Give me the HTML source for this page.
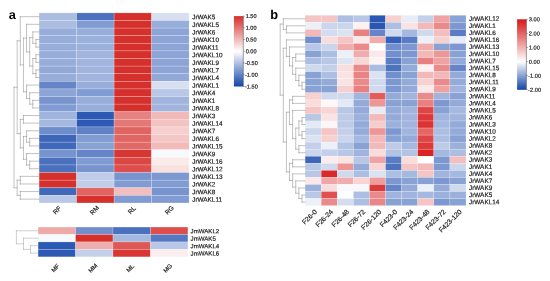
<!DOCTYPE html>
<html><head><meta charset="utf-8"><title>Heatmap</title>
<style>html,body{margin:0;padding:0;background:#fff}svg{display:block}text{font-family:"Liberation Sans",sans-serif;text-rendering:geometricPrecision}</style>
</head><body>
<svg width="550" height="281" viewBox="0 0 550 281">
<rect width="550" height="281" fill="#fff"/>
<g shape-rendering="geometricPrecision">
<rect x="39.10" y="12.90" width="37.50" height="7.60" fill="#aabce0" stroke="#fff" stroke-opacity="0.4" stroke-width="0.5"/>
<rect x="76.60" y="12.90" width="37.50" height="7.60" fill="#4b71be" stroke="#fff" stroke-opacity="0.4" stroke-width="0.5"/>
<rect x="114.10" y="12.90" width="37.50" height="7.60" fill="#d6302c" stroke="#fff" stroke-opacity="0.4" stroke-width="0.5"/>
<rect x="151.60" y="12.90" width="37.50" height="7.60" fill="#d7dff1" stroke="#fff" stroke-opacity="0.4" stroke-width="0.5"/>
<rect x="39.10" y="20.50" width="37.50" height="7.60" fill="#aabce0" stroke="#fff" stroke-opacity="0.4" stroke-width="0.5"/>
<rect x="76.60" y="20.50" width="37.50" height="7.60" fill="#819cd2" stroke="#fff" stroke-opacity="0.4" stroke-width="0.5"/>
<rect x="114.10" y="20.50" width="37.50" height="7.60" fill="#d6302c" stroke="#fff" stroke-opacity="0.4" stroke-width="0.5"/>
<rect x="151.60" y="20.50" width="37.50" height="7.60" fill="#97adda" stroke="#fff" stroke-opacity="0.4" stroke-width="0.5"/>
<rect x="39.10" y="28.11" width="37.50" height="7.60" fill="#97adda" stroke="#fff" stroke-opacity="0.4" stroke-width="0.5"/>
<rect x="76.60" y="28.11" width="37.50" height="7.60" fill="#97adda" stroke="#fff" stroke-opacity="0.4" stroke-width="0.5"/>
<rect x="114.10" y="28.11" width="37.50" height="7.60" fill="#d6302c" stroke="#fff" stroke-opacity="0.4" stroke-width="0.5"/>
<rect x="151.60" y="28.11" width="37.50" height="7.60" fill="#8ca4d6" stroke="#fff" stroke-opacity="0.4" stroke-width="0.5"/>
<rect x="39.10" y="35.71" width="37.50" height="7.60" fill="#97adda" stroke="#fff" stroke-opacity="0.4" stroke-width="0.5"/>
<rect x="76.60" y="35.71" width="37.50" height="7.60" fill="#9bb0db" stroke="#fff" stroke-opacity="0.4" stroke-width="0.5"/>
<rect x="114.10" y="35.71" width="37.50" height="7.60" fill="#d6302c" stroke="#fff" stroke-opacity="0.4" stroke-width="0.5"/>
<rect x="151.60" y="35.71" width="37.50" height="7.60" fill="#8ca4d6" stroke="#fff" stroke-opacity="0.4" stroke-width="0.5"/>
<rect x="39.10" y="43.31" width="37.50" height="7.60" fill="#97adda" stroke="#fff" stroke-opacity="0.4" stroke-width="0.5"/>
<rect x="76.60" y="43.31" width="37.50" height="7.60" fill="#9bb0db" stroke="#fff" stroke-opacity="0.4" stroke-width="0.5"/>
<rect x="114.10" y="43.31" width="37.50" height="7.60" fill="#d6302c" stroke="#fff" stroke-opacity="0.4" stroke-width="0.5"/>
<rect x="151.60" y="43.31" width="37.50" height="7.60" fill="#8ca4d6" stroke="#fff" stroke-opacity="0.4" stroke-width="0.5"/>
<rect x="39.10" y="50.91" width="37.50" height="7.60" fill="#97adda" stroke="#fff" stroke-opacity="0.4" stroke-width="0.5"/>
<rect x="76.60" y="50.91" width="37.50" height="7.60" fill="#a0b4dd" stroke="#fff" stroke-opacity="0.4" stroke-width="0.5"/>
<rect x="114.10" y="50.91" width="37.50" height="7.60" fill="#d6302c" stroke="#fff" stroke-opacity="0.4" stroke-width="0.5"/>
<rect x="151.60" y="50.91" width="37.50" height="7.60" fill="#8ca4d6" stroke="#fff" stroke-opacity="0.4" stroke-width="0.5"/>
<rect x="39.10" y="58.52" width="37.50" height="7.60" fill="#97adda" stroke="#fff" stroke-opacity="0.4" stroke-width="0.5"/>
<rect x="76.60" y="58.52" width="37.50" height="7.60" fill="#a0b4dd" stroke="#fff" stroke-opacity="0.4" stroke-width="0.5"/>
<rect x="114.10" y="58.52" width="37.50" height="7.60" fill="#d6302c" stroke="#fff" stroke-opacity="0.4" stroke-width="0.5"/>
<rect x="151.60" y="58.52" width="37.50" height="7.60" fill="#8ca4d6" stroke="#fff" stroke-opacity="0.4" stroke-width="0.5"/>
<rect x="39.10" y="66.12" width="37.50" height="7.60" fill="#92a9d8" stroke="#fff" stroke-opacity="0.4" stroke-width="0.5"/>
<rect x="76.60" y="66.12" width="37.50" height="7.60" fill="#a0b4dd" stroke="#fff" stroke-opacity="0.4" stroke-width="0.5"/>
<rect x="114.10" y="66.12" width="37.50" height="7.60" fill="#d6302c" stroke="#fff" stroke-opacity="0.4" stroke-width="0.5"/>
<rect x="151.60" y="66.12" width="37.50" height="7.60" fill="#8ca4d6" stroke="#fff" stroke-opacity="0.4" stroke-width="0.5"/>
<rect x="39.10" y="73.72" width="37.50" height="7.60" fill="#97adda" stroke="#fff" stroke-opacity="0.4" stroke-width="0.5"/>
<rect x="76.60" y="73.72" width="37.50" height="7.60" fill="#a0b4dd" stroke="#fff" stroke-opacity="0.4" stroke-width="0.5"/>
<rect x="114.10" y="73.72" width="37.50" height="7.60" fill="#d6302c" stroke="#fff" stroke-opacity="0.4" stroke-width="0.5"/>
<rect x="151.60" y="73.72" width="37.50" height="7.60" fill="#92a9d8" stroke="#fff" stroke-opacity="0.4" stroke-width="0.5"/>
<rect x="39.10" y="81.33" width="37.50" height="7.60" fill="#6585c8" stroke="#fff" stroke-opacity="0.4" stroke-width="0.5"/>
<rect x="76.60" y="81.33" width="37.50" height="7.60" fill="#97adda" stroke="#fff" stroke-opacity="0.4" stroke-width="0.5"/>
<rect x="114.10" y="81.33" width="37.50" height="7.60" fill="#d6302c" stroke="#fff" stroke-opacity="0.4" stroke-width="0.5"/>
<rect x="151.60" y="81.33" width="37.50" height="7.60" fill="#d7dff1" stroke="#fff" stroke-opacity="0.4" stroke-width="0.5"/>
<rect x="39.10" y="88.93" width="37.50" height="7.60" fill="#8ca4d6" stroke="#fff" stroke-opacity="0.4" stroke-width="0.5"/>
<rect x="76.60" y="88.93" width="37.50" height="7.60" fill="#819cd2" stroke="#fff" stroke-opacity="0.4" stroke-width="0.5"/>
<rect x="114.10" y="88.93" width="37.50" height="7.60" fill="#d6302c" stroke="#fff" stroke-opacity="0.4" stroke-width="0.5"/>
<rect x="151.60" y="88.93" width="37.50" height="7.60" fill="#b9c8e6" stroke="#fff" stroke-opacity="0.4" stroke-width="0.5"/>
<rect x="39.10" y="96.53" width="37.50" height="7.60" fill="#7894cf" stroke="#fff" stroke-opacity="0.4" stroke-width="0.5"/>
<rect x="76.60" y="96.53" width="37.50" height="7.60" fill="#97adda" stroke="#fff" stroke-opacity="0.4" stroke-width="0.5"/>
<rect x="114.10" y="96.53" width="37.50" height="7.60" fill="#d6302c" stroke="#fff" stroke-opacity="0.4" stroke-width="0.5"/>
<rect x="151.60" y="96.53" width="37.50" height="7.60" fill="#a0b4dd" stroke="#fff" stroke-opacity="0.4" stroke-width="0.5"/>
<rect x="39.10" y="104.14" width="37.50" height="7.60" fill="#819cd2" stroke="#fff" stroke-opacity="0.4" stroke-width="0.5"/>
<rect x="76.60" y="104.14" width="37.50" height="7.60" fill="#97adda" stroke="#fff" stroke-opacity="0.4" stroke-width="0.5"/>
<rect x="114.10" y="104.14" width="37.50" height="7.60" fill="#d6302c" stroke="#fff" stroke-opacity="0.4" stroke-width="0.5"/>
<rect x="151.60" y="104.14" width="37.50" height="7.60" fill="#a0b4dd" stroke="#fff" stroke-opacity="0.4" stroke-width="0.5"/>
<rect x="39.10" y="111.74" width="37.50" height="7.60" fill="#a0b4dd" stroke="#fff" stroke-opacity="0.4" stroke-width="0.5"/>
<rect x="76.60" y="111.74" width="37.50" height="7.60" fill="#2c59b3" stroke="#fff" stroke-opacity="0.4" stroke-width="0.5"/>
<rect x="114.10" y="111.74" width="37.50" height="7.60" fill="#e68380" stroke="#fff" stroke-opacity="0.4" stroke-width="0.5"/>
<rect x="151.60" y="111.74" width="37.50" height="7.60" fill="#f1b9b7" stroke="#fff" stroke-opacity="0.4" stroke-width="0.5"/>
<rect x="39.10" y="119.34" width="37.50" height="7.60" fill="#a5b8df" stroke="#fff" stroke-opacity="0.4" stroke-width="0.5"/>
<rect x="76.60" y="119.34" width="37.50" height="7.60" fill="#2c59b3" stroke="#fff" stroke-opacity="0.4" stroke-width="0.5"/>
<rect x="114.10" y="119.34" width="37.50" height="7.60" fill="#e47876" stroke="#fff" stroke-opacity="0.4" stroke-width="0.5"/>
<rect x="151.60" y="119.34" width="37.50" height="7.60" fill="#f3c3c2" stroke="#fff" stroke-opacity="0.4" stroke-width="0.5"/>
<rect x="39.10" y="126.95" width="37.50" height="7.60" fill="#6e8dcb" stroke="#fff" stroke-opacity="0.4" stroke-width="0.5"/>
<rect x="76.60" y="126.95" width="37.50" height="7.60" fill="#5e80c5" stroke="#fff" stroke-opacity="0.4" stroke-width="0.5"/>
<rect x="114.10" y="126.95" width="37.50" height="7.60" fill="#e06461" stroke="#fff" stroke-opacity="0.4" stroke-width="0.5"/>
<rect x="151.60" y="126.95" width="37.50" height="7.60" fill="#f6cfce" stroke="#fff" stroke-opacity="0.4" stroke-width="0.5"/>
<rect x="39.10" y="134.55" width="37.50" height="7.60" fill="#3d66b9" stroke="#fff" stroke-opacity="0.4" stroke-width="0.5"/>
<rect x="76.60" y="134.55" width="37.50" height="7.60" fill="#819cd2" stroke="#fff" stroke-opacity="0.4" stroke-width="0.5"/>
<rect x="114.10" y="134.55" width="37.50" height="7.60" fill="#e16663" stroke="#fff" stroke-opacity="0.4" stroke-width="0.5"/>
<rect x="151.60" y="134.55" width="37.50" height="7.60" fill="#f4c7c6" stroke="#fff" stroke-opacity="0.4" stroke-width="0.5"/>
<rect x="39.10" y="142.15" width="37.50" height="7.60" fill="#4169bb" stroke="#fff" stroke-opacity="0.4" stroke-width="0.5"/>
<rect x="76.60" y="142.15" width="37.50" height="7.60" fill="#88a2d4" stroke="#fff" stroke-opacity="0.4" stroke-width="0.5"/>
<rect x="114.10" y="142.15" width="37.50" height="7.60" fill="#e16a67" stroke="#fff" stroke-opacity="0.4" stroke-width="0.5"/>
<rect x="151.60" y="142.15" width="37.50" height="7.60" fill="#f1bbb9" stroke="#fff" stroke-opacity="0.4" stroke-width="0.5"/>
<rect x="39.10" y="149.75" width="37.50" height="7.60" fill="#7894cf" stroke="#fff" stroke-opacity="0.4" stroke-width="0.5"/>
<rect x="76.60" y="149.75" width="37.50" height="7.60" fill="#6585c8" stroke="#fff" stroke-opacity="0.4" stroke-width="0.5"/>
<rect x="114.10" y="149.75" width="37.50" height="7.60" fill="#d73632" stroke="#fff" stroke-opacity="0.4" stroke-width="0.5"/>
<rect x="151.60" y="149.75" width="37.50" height="7.60" fill="#f8f9fc" stroke="#fff" stroke-opacity="0.4" stroke-width="0.5"/>
<rect x="39.10" y="157.36" width="37.50" height="7.60" fill="#4b71be" stroke="#fff" stroke-opacity="0.4" stroke-width="0.5"/>
<rect x="76.60" y="157.36" width="37.50" height="7.60" fill="#819cd2" stroke="#fff" stroke-opacity="0.4" stroke-width="0.5"/>
<rect x="114.10" y="157.36" width="37.50" height="7.60" fill="#db4743" stroke="#fff" stroke-opacity="0.4" stroke-width="0.5"/>
<rect x="151.60" y="157.36" width="37.50" height="7.60" fill="#fbeaea" stroke="#fff" stroke-opacity="0.4" stroke-width="0.5"/>
<rect x="39.10" y="164.96" width="37.50" height="7.60" fill="#4b71be" stroke="#fff" stroke-opacity="0.4" stroke-width="0.5"/>
<rect x="76.60" y="164.96" width="37.50" height="7.60" fill="#7894cf" stroke="#fff" stroke-opacity="0.4" stroke-width="0.5"/>
<rect x="114.10" y="164.96" width="37.50" height="7.60" fill="#dc4f4c" stroke="#fff" stroke-opacity="0.4" stroke-width="0.5"/>
<rect x="151.60" y="164.96" width="37.50" height="7.60" fill="#f9e1e0" stroke="#fff" stroke-opacity="0.4" stroke-width="0.5"/>
<rect x="39.10" y="172.56" width="37.50" height="7.60" fill="#d6302c" stroke="#fff" stroke-opacity="0.4" stroke-width="0.5"/>
<rect x="76.60" y="172.56" width="37.50" height="7.60" fill="#bfcde8" stroke="#fff" stroke-opacity="0.4" stroke-width="0.5"/>
<rect x="114.10" y="172.56" width="37.50" height="7.60" fill="#7894cf" stroke="#fff" stroke-opacity="0.4" stroke-width="0.5"/>
<rect x="151.60" y="172.56" width="37.50" height="7.60" fill="#7d98d0" stroke="#fff" stroke-opacity="0.4" stroke-width="0.5"/>
<rect x="39.10" y="180.17" width="37.50" height="7.60" fill="#d6302c" stroke="#fff" stroke-opacity="0.4" stroke-width="0.5"/>
<rect x="76.60" y="180.17" width="37.50" height="7.60" fill="#bfcde8" stroke="#fff" stroke-opacity="0.4" stroke-width="0.5"/>
<rect x="114.10" y="180.17" width="37.50" height="7.60" fill="#819cd2" stroke="#fff" stroke-opacity="0.4" stroke-width="0.5"/>
<rect x="151.60" y="180.17" width="37.50" height="7.60" fill="#819cd2" stroke="#fff" stroke-opacity="0.4" stroke-width="0.5"/>
<rect x="39.10" y="187.77" width="37.50" height="7.60" fill="#4169bb" stroke="#fff" stroke-opacity="0.4" stroke-width="0.5"/>
<rect x="76.60" y="187.77" width="37.50" height="7.60" fill="#e06461" stroke="#fff" stroke-opacity="0.4" stroke-width="0.5"/>
<rect x="114.10" y="187.77" width="37.50" height="7.60" fill="#f2bfbe" stroke="#fff" stroke-opacity="0.4" stroke-width="0.5"/>
<rect x="151.60" y="187.77" width="37.50" height="7.60" fill="#7894cf" stroke="#fff" stroke-opacity="0.4" stroke-width="0.5"/>
<rect x="39.10" y="195.37" width="37.50" height="7.60" fill="#b9c8e6" stroke="#fff" stroke-opacity="0.4" stroke-width="0.5"/>
<rect x="76.60" y="195.37" width="37.50" height="7.60" fill="#d6302c" stroke="#fff" stroke-opacity="0.4" stroke-width="0.5"/>
<rect x="114.10" y="195.37" width="37.50" height="7.60" fill="#819cd2" stroke="#fff" stroke-opacity="0.4" stroke-width="0.5"/>
<rect x="151.60" y="195.37" width="37.50" height="7.60" fill="#819cd2" stroke="#fff" stroke-opacity="0.4" stroke-width="0.5"/>
</g>
<g font-size="6.40" fill="#1a1a1a" stroke="#1a1a1a" stroke-width="0.18">
<text transform="translate(192.20 19.33) rotate(-0.08)">JrWAK5</text>
<text transform="translate(192.20 26.93) rotate(-0.08)">JrWAKL5</text>
<text transform="translate(192.20 34.53) rotate(-0.08)">JrWAK6</text>
<text transform="translate(192.20 42.13) rotate(-0.08)">JrWAK10</text>
<text transform="translate(192.20 49.74) rotate(-0.08)">JrWAK11</text>
<text transform="translate(192.20 57.34) rotate(-0.08)">JrWAKL10</text>
<text transform="translate(192.20 64.94) rotate(-0.08)">JrWAKL9</text>
<text transform="translate(192.20 72.55) rotate(-0.08)">JrWAKL7</text>
<text transform="translate(192.20 80.15) rotate(-0.08)">JrWAKL4</text>
<text transform="translate(192.20 87.75) rotate(-0.08)">JrWAKL1</text>
<text transform="translate(192.20 95.36) rotate(-0.08)">JrWAK4</text>
<text transform="translate(192.20 102.96) rotate(-0.08)">JrWAK1</text>
<text transform="translate(192.20 110.56) rotate(-0.08)">JrWAKL8</text>
<text transform="translate(192.20 118.16) rotate(-0.08)">JrWAK3</text>
<text transform="translate(192.20 125.77) rotate(-0.08)">JrWAKL14</text>
<text transform="translate(192.20 133.37) rotate(-0.08)">JrWAK7</text>
<text transform="translate(192.20 140.97) rotate(-0.08)">JrWAKL6</text>
<text transform="translate(192.20 148.58) rotate(-0.08)">JrWAKL15</text>
<text transform="translate(192.20 156.18) rotate(-0.08)">JrWAK9</text>
<text transform="translate(192.20 163.78) rotate(-0.08)">JrWAKL16</text>
<text transform="translate(192.20 171.39) rotate(-0.08)">JrWAKL12</text>
<text transform="translate(192.20 178.99) rotate(-0.08)">JrWAKL13</text>
<text transform="translate(192.20 186.59) rotate(-0.08)">JrWAK2</text>
<text transform="translate(192.20 194.19) rotate(-0.08)">JrWAK8</text>
<text transform="translate(192.20 201.80) rotate(-0.08)">JrWAKL11</text>
</g>
<g font-size="6.40" fill="#1a1a1a" stroke="#1a1a1a" stroke-width="0.18" text-anchor="middle">
<text transform="translate(58.45 211.70) rotate(-45)">RF</text>
<text transform="translate(95.95 211.70) rotate(-45)">RM</text>
<text transform="translate(133.45 211.70) rotate(-45)">RL</text>
<text transform="translate(170.95 211.70) rotate(-45)">RG</text>
</g>
<path d="M35.96 39.51L39.10 39.51M35.96 47.11L39.10 47.11M35.96 39.51L35.96 47.11M32.83 31.91L39.10 31.91M32.83 43.31L35.96 43.31M32.83 31.91L32.83 43.31M35.96 54.72L39.10 54.72M35.96 62.32L39.10 62.32M35.96 54.72L35.96 62.32M35.96 69.92L39.10 69.92M35.96 77.53L39.10 77.53M35.96 69.92L35.96 77.53M32.83 58.52L35.96 58.52M32.83 73.72L35.96 73.72M32.83 58.52L32.83 73.72M29.70 37.61L32.83 37.61M29.70 66.12L32.83 66.12M29.70 37.61L29.70 66.12M26.57 24.30L39.10 24.30M26.57 51.87L29.70 51.87M26.57 24.30L26.57 51.87M32.83 100.33L39.10 100.33M32.83 107.94L39.10 107.94M32.83 100.33L32.83 107.94M29.70 92.73L39.10 92.73M29.70 104.14L32.83 104.14M29.70 92.73L29.70 104.14M26.57 85.13L39.10 85.13M26.57 98.43L29.70 98.43M26.57 85.13L26.57 98.43M23.44 38.08L26.57 38.08M23.44 91.78L26.57 91.78M23.44 38.08L23.44 91.78M20.31 16.70L39.10 16.70M20.31 64.93L23.44 64.93M20.31 16.70L20.31 64.93M23.44 115.54L39.10 115.54M23.44 123.14L39.10 123.14M23.44 115.54L23.44 123.14M29.70 138.35L39.10 138.35M29.70 145.95L39.10 145.95M29.70 138.35L29.70 145.95M26.57 130.75L39.10 130.75M26.57 142.15L29.70 142.15M26.57 130.75L26.57 142.15M29.70 161.16L39.10 161.16M29.70 168.76L39.10 168.76M29.70 161.16L29.70 168.76M26.57 153.56L39.10 153.56M26.57 164.96L29.70 164.96M26.57 153.56L26.57 164.96M23.44 136.45L26.57 136.45M23.44 159.26L26.57 159.26M23.44 136.45L23.44 159.26M20.31 119.34L23.44 119.34M20.31 147.85L23.44 147.85M20.31 119.34L20.31 147.85M17.18 40.82L20.31 40.82M17.18 133.60L20.31 133.60M17.18 40.82L17.18 133.60M20.31 176.36L39.10 176.36M20.31 183.97L39.10 183.97M20.31 176.36L20.31 183.97M20.31 191.57L39.10 191.57M20.31 199.17L39.10 199.17M20.31 191.57L20.31 199.17M17.18 180.17L20.31 180.17M17.18 195.37L20.31 195.37M17.18 180.17L17.18 195.37M14.05 87.21L17.18 87.21M14.05 187.77L17.18 187.77M14.05 87.21L14.05 187.77" fill="none" stroke="#858585" stroke-width="0.5" stroke-linecap="square"/>
<defs><linearGradient id="ga" x1="0" y1="0" x2="0" y2="1"><stop offset="0" stop-color="#d6302c"/><stop offset="0.500" stop-color="#fff"/><stop offset="1" stop-color="#1244aa"/></linearGradient></defs>
<rect x="233.90" y="16.10" width="9.40" height="70.40" fill="url(#ga)"/>
<path d="M243.30 16.10V86.50" stroke="#444" stroke-width="0.5"/>
<g font-size="5.60" fill="#1a1a1a" stroke="#1a1a1a" stroke-width="0.18">
<path d="M243.30 16.10h1.3" stroke="#333" stroke-width="0.5"/>
<text transform="translate(245.70 18.12) rotate(-0.08)">1.50</text>
<path d="M243.30 27.83h1.3" stroke="#333" stroke-width="0.5"/>
<text transform="translate(245.70 29.85) rotate(-0.08)">1.00</text>
<path d="M243.30 39.57h1.3" stroke="#333" stroke-width="0.5"/>
<text transform="translate(245.70 41.58) rotate(-0.08)">0.50</text>
<path d="M243.30 51.30h1.3" stroke="#333" stroke-width="0.5"/>
<text transform="translate(245.70 53.32) rotate(-0.08)">0.00</text>
<path d="M243.30 63.03h1.3" stroke="#333" stroke-width="0.5"/>
<text transform="translate(245.00 65.05) rotate(-0.08)">-0.50</text>
<path d="M243.30 74.77h1.3" stroke="#333" stroke-width="0.5"/>
<text transform="translate(245.00 76.78) rotate(-0.08)">-1.00</text>
<path d="M243.30 86.50h1.3" stroke="#333" stroke-width="0.5"/>
<text transform="translate(245.00 88.52) rotate(-0.08)">-1.50</text>
</g>
<g shape-rendering="geometricPrecision">
<rect x="38.10" y="227.05" width="37.45" height="7.45" fill="#eeaaa8" stroke="#fff" stroke-opacity="0.4" stroke-width="0.5"/>
<rect x="75.55" y="227.05" width="37.45" height="7.45" fill="#718fcc" stroke="#fff" stroke-opacity="0.4" stroke-width="0.5"/>
<rect x="113.00" y="227.05" width="37.45" height="7.45" fill="#4b71be" stroke="#fff" stroke-opacity="0.4" stroke-width="0.5"/>
<rect x="150.45" y="227.05" width="37.45" height="7.45" fill="#dc4f4c" stroke="#fff" stroke-opacity="0.4" stroke-width="0.5"/>
<rect x="38.10" y="234.50" width="37.45" height="7.45" fill="#f8f9fc" stroke="#fff" stroke-opacity="0.4" stroke-width="0.5"/>
<rect x="75.55" y="234.50" width="37.45" height="7.45" fill="#d6302c" stroke="#fff" stroke-opacity="0.4" stroke-width="0.5"/>
<rect x="113.00" y="234.50" width="37.45" height="7.45" fill="#a5b8df" stroke="#fff" stroke-opacity="0.4" stroke-width="0.5"/>
<rect x="150.45" y="234.50" width="37.45" height="7.45" fill="#5478c2" stroke="#fff" stroke-opacity="0.4" stroke-width="0.5"/>
<rect x="38.10" y="241.95" width="37.45" height="7.45" fill="#2c59b3" stroke="#fff" stroke-opacity="0.4" stroke-width="0.5"/>
<rect x="75.55" y="241.95" width="37.45" height="7.45" fill="#efaead" stroke="#fff" stroke-opacity="0.4" stroke-width="0.5"/>
<rect x="113.00" y="241.95" width="37.45" height="7.45" fill="#de5956" stroke="#fff" stroke-opacity="0.4" stroke-width="0.5"/>
<rect x="150.45" y="241.95" width="37.45" height="7.45" fill="#b9c8e6" stroke="#fff" stroke-opacity="0.4" stroke-width="0.5"/>
<rect x="38.10" y="249.40" width="37.45" height="7.45" fill="#2c59b3" stroke="#fff" stroke-opacity="0.4" stroke-width="0.5"/>
<rect x="75.55" y="249.40" width="37.45" height="7.45" fill="#c4d0ea" stroke="#fff" stroke-opacity="0.4" stroke-width="0.5"/>
<rect x="113.00" y="249.40" width="37.45" height="7.45" fill="#d73632" stroke="#fff" stroke-opacity="0.4" stroke-width="0.5"/>
<rect x="150.45" y="249.40" width="37.45" height="7.45" fill="#fceeee" stroke="#fff" stroke-opacity="0.4" stroke-width="0.5"/>
</g>
<g font-size="6.10" fill="#1a1a1a" stroke="#1a1a1a" stroke-width="0.18">
<text transform="translate(190.60 233.28) rotate(-0.08)">JmWAKL2</text>
<text transform="translate(190.60 240.73) rotate(-0.08)">JmWAK5</text>
<text transform="translate(190.60 248.18) rotate(-0.08)">JmWAKL4</text>
<text transform="translate(190.60 255.63) rotate(-0.08)">JmWAKL6</text>
</g>
<g font-size="6.00" fill="#1a1a1a" stroke="#1a1a1a" stroke-width="0.18" text-anchor="middle">
<text transform="translate(56.73 269.55) rotate(-45)">MF</text>
<text transform="translate(94.18 269.55) rotate(-45)">MM</text>
<text transform="translate(131.62 269.55) rotate(-45)">ML</text>
<text transform="translate(169.08 269.55) rotate(-45)">MG</text>
</g>
<path d="M30.50 245.68L38.10 245.68M30.50 253.12L38.10 253.12M30.50 245.68L30.50 253.12M23.50 238.23L38.10 238.23M23.50 249.40L30.50 249.40M23.50 238.23L23.50 249.40M16.40 230.78L38.10 230.78M16.40 243.81L23.50 243.81M16.40 230.78L16.40 243.81" fill="none" stroke="#a0a0a0" stroke-width="0.5" stroke-linecap="square"/>
<g shape-rendering="geometricPrecision">
<rect x="305.10" y="15.25" width="16.09" height="7.05" fill="#f5c5c5" stroke="#fff" stroke-opacity="0.4" stroke-width="0.5"/>
<rect x="321.19" y="15.25" width="16.09" height="7.05" fill="#f5c5c5" stroke="#fff" stroke-opacity="0.4" stroke-width="0.5"/>
<rect x="337.28" y="15.25" width="16.09" height="7.05" fill="#acbee1" stroke="#fff" stroke-opacity="0.4" stroke-width="0.5"/>
<rect x="353.37" y="15.25" width="16.09" height="7.05" fill="#b8c7e6" stroke="#fff" stroke-opacity="0.4" stroke-width="0.5"/>
<rect x="369.46" y="15.25" width="16.09" height="7.05" fill="#2a57b2" stroke="#fff" stroke-opacity="0.4" stroke-width="0.5"/>
<rect x="385.55" y="15.25" width="16.09" height="7.05" fill="#f7d0d0" stroke="#fff" stroke-opacity="0.4" stroke-width="0.5"/>
<rect x="401.64" y="15.25" width="16.09" height="7.05" fill="#e7ecf6" stroke="#fff" stroke-opacity="0.4" stroke-width="0.5"/>
<rect x="417.73" y="15.25" width="16.09" height="7.05" fill="#c4d0ea" stroke="#fff" stroke-opacity="0.4" stroke-width="0.5"/>
<rect x="433.82" y="15.25" width="16.09" height="7.05" fill="#efa2a2" stroke="#fff" stroke-opacity="0.4" stroke-width="0.5"/>
<rect x="449.91" y="15.25" width="16.09" height="7.05" fill="#88a2d4" stroke="#fff" stroke-opacity="0.4" stroke-width="0.5"/>
<rect x="305.10" y="22.30" width="16.09" height="7.05" fill="#ecf0f8" stroke="#fff" stroke-opacity="0.4" stroke-width="0.5"/>
<rect x="321.19" y="22.30" width="16.09" height="7.05" fill="#cbd6ec" stroke="#fff" stroke-opacity="0.4" stroke-width="0.5"/>
<rect x="337.28" y="22.30" width="16.09" height="7.05" fill="#cbd6ec" stroke="#fff" stroke-opacity="0.4" stroke-width="0.5"/>
<rect x="353.37" y="22.30" width="16.09" height="7.05" fill="#fdf1f1" stroke="#fff" stroke-opacity="0.4" stroke-width="0.5"/>
<rect x="369.46" y="22.30" width="16.09" height="7.05" fill="#2a57b2" stroke="#fff" stroke-opacity="0.4" stroke-width="0.5"/>
<rect x="385.55" y="22.30" width="16.09" height="7.05" fill="#acbee1" stroke="#fff" stroke-opacity="0.4" stroke-width="0.5"/>
<rect x="401.64" y="22.30" width="16.09" height="7.05" fill="#fae3e3" stroke="#fff" stroke-opacity="0.4" stroke-width="0.5"/>
<rect x="417.73" y="22.30" width="16.09" height="7.05" fill="#f3b9b9" stroke="#fff" stroke-opacity="0.4" stroke-width="0.5"/>
<rect x="433.82" y="22.30" width="16.09" height="7.05" fill="#eb8a8a" stroke="#fff" stroke-opacity="0.4" stroke-width="0.5"/>
<rect x="449.91" y="22.30" width="16.09" height="7.05" fill="#7d98d0" stroke="#fff" stroke-opacity="0.4" stroke-width="0.5"/>
<rect x="305.10" y="29.35" width="16.09" height="7.05" fill="#f3b9b9" stroke="#fff" stroke-opacity="0.4" stroke-width="0.5"/>
<rect x="321.19" y="29.35" width="16.09" height="7.05" fill="#d4ddf0" stroke="#fff" stroke-opacity="0.4" stroke-width="0.5"/>
<rect x="337.28" y="29.35" width="16.09" height="7.05" fill="#dbe3f2" stroke="#fff" stroke-opacity="0.4" stroke-width="0.5"/>
<rect x="353.37" y="29.35" width="16.09" height="7.05" fill="#e97f7f" stroke="#fff" stroke-opacity="0.4" stroke-width="0.5"/>
<rect x="369.46" y="29.35" width="16.09" height="7.05" fill="#6585c8" stroke="#fff" stroke-opacity="0.4" stroke-width="0.5"/>
<rect x="385.55" y="29.35" width="16.09" height="7.05" fill="#d0daee" stroke="#fff" stroke-opacity="0.4" stroke-width="0.5"/>
<rect x="401.64" y="29.35" width="16.09" height="7.05" fill="#a5b8df" stroke="#fff" stroke-opacity="0.4" stroke-width="0.5"/>
<rect x="417.73" y="29.35" width="16.09" height="7.05" fill="#d0daee" stroke="#fff" stroke-opacity="0.4" stroke-width="0.5"/>
<rect x="433.82" y="29.35" width="16.09" height="7.05" fill="#f4bebe" stroke="#fff" stroke-opacity="0.4" stroke-width="0.5"/>
<rect x="449.91" y="29.35" width="16.09" height="7.05" fill="#597cc4" stroke="#fff" stroke-opacity="0.4" stroke-width="0.5"/>
<rect x="305.10" y="36.40" width="16.09" height="7.05" fill="#718fcc" stroke="#fff" stroke-opacity="0.4" stroke-width="0.5"/>
<rect x="321.19" y="36.40" width="16.09" height="7.05" fill="#f9dcdc" stroke="#fff" stroke-opacity="0.4" stroke-width="0.5"/>
<rect x="337.28" y="36.40" width="16.09" height="7.05" fill="#f5c5c5" stroke="#fff" stroke-opacity="0.4" stroke-width="0.5"/>
<rect x="353.37" y="36.40" width="16.09" height="7.05" fill="#fbe8e8" stroke="#fff" stroke-opacity="0.4" stroke-width="0.5"/>
<rect x="369.46" y="36.40" width="16.09" height="7.05" fill="#f1adad" stroke="#fff" stroke-opacity="0.4" stroke-width="0.5"/>
<rect x="385.55" y="36.40" width="16.09" height="7.05" fill="#3660b7" stroke="#fff" stroke-opacity="0.4" stroke-width="0.5"/>
<rect x="401.64" y="36.40" width="16.09" height="7.05" fill="#597cc4" stroke="#fff" stroke-opacity="0.4" stroke-width="0.5"/>
<rect x="417.73" y="36.40" width="16.09" height="7.05" fill="#ecf0f8" stroke="#fff" stroke-opacity="0.4" stroke-width="0.5"/>
<rect x="433.82" y="36.40" width="16.09" height="7.05" fill="#f7d0d0" stroke="#fff" stroke-opacity="0.4" stroke-width="0.5"/>
<rect x="449.91" y="36.40" width="16.09" height="7.05" fill="#e7ecf6" stroke="#fff" stroke-opacity="0.4" stroke-width="0.5"/>
<rect x="305.10" y="43.45" width="16.09" height="7.05" fill="#b8c7e6" stroke="#fff" stroke-opacity="0.4" stroke-width="0.5"/>
<rect x="321.19" y="43.45" width="16.09" height="7.05" fill="#cbd6ec" stroke="#fff" stroke-opacity="0.4" stroke-width="0.5"/>
<rect x="337.28" y="43.45" width="16.09" height="7.05" fill="#f1adad" stroke="#fff" stroke-opacity="0.4" stroke-width="0.5"/>
<rect x="353.37" y="43.45" width="16.09" height="7.05" fill="#eb8a8a" stroke="#fff" stroke-opacity="0.4" stroke-width="0.5"/>
<rect x="369.46" y="43.45" width="16.09" height="7.05" fill="#ffffff" stroke="#fff" stroke-opacity="0.4" stroke-width="0.5"/>
<rect x="385.55" y="43.45" width="16.09" height="7.05" fill="#718fcc" stroke="#fff" stroke-opacity="0.4" stroke-width="0.5"/>
<rect x="401.64" y="43.45" width="16.09" height="7.05" fill="#7d98d0" stroke="#fff" stroke-opacity="0.4" stroke-width="0.5"/>
<rect x="417.73" y="43.45" width="16.09" height="7.05" fill="#f1adad" stroke="#fff" stroke-opacity="0.4" stroke-width="0.5"/>
<rect x="433.82" y="43.45" width="16.09" height="7.05" fill="#88a2d4" stroke="#fff" stroke-opacity="0.4" stroke-width="0.5"/>
<rect x="449.91" y="43.45" width="16.09" height="7.05" fill="#7d98d0" stroke="#fff" stroke-opacity="0.4" stroke-width="0.5"/>
<rect x="305.10" y="50.50" width="16.09" height="7.05" fill="#88a2d4" stroke="#fff" stroke-opacity="0.4" stroke-width="0.5"/>
<rect x="321.19" y="50.50" width="16.09" height="7.05" fill="#acbee1" stroke="#fff" stroke-opacity="0.4" stroke-width="0.5"/>
<rect x="337.28" y="50.50" width="16.09" height="7.05" fill="#ecf0f8" stroke="#fff" stroke-opacity="0.4" stroke-width="0.5"/>
<rect x="353.37" y="50.50" width="16.09" height="7.05" fill="#f1adad" stroke="#fff" stroke-opacity="0.4" stroke-width="0.5"/>
<rect x="369.46" y="50.50" width="16.09" height="7.05" fill="#fbe8e8" stroke="#fff" stroke-opacity="0.4" stroke-width="0.5"/>
<rect x="385.55" y="50.50" width="16.09" height="7.05" fill="#718fcc" stroke="#fff" stroke-opacity="0.4" stroke-width="0.5"/>
<rect x="401.64" y="50.50" width="16.09" height="7.05" fill="#7d98d0" stroke="#fff" stroke-opacity="0.4" stroke-width="0.5"/>
<rect x="417.73" y="50.50" width="16.09" height="7.05" fill="#f3b9b9" stroke="#fff" stroke-opacity="0.4" stroke-width="0.5"/>
<rect x="433.82" y="50.50" width="16.09" height="7.05" fill="#ed9696" stroke="#fff" stroke-opacity="0.4" stroke-width="0.5"/>
<rect x="449.91" y="50.50" width="16.09" height="7.05" fill="#88a2d4" stroke="#fff" stroke-opacity="0.4" stroke-width="0.5"/>
<rect x="305.10" y="57.55" width="16.09" height="7.05" fill="#acbee1" stroke="#fff" stroke-opacity="0.4" stroke-width="0.5"/>
<rect x="321.19" y="57.55" width="16.09" height="7.05" fill="#b8c7e6" stroke="#fff" stroke-opacity="0.4" stroke-width="0.5"/>
<rect x="337.28" y="57.55" width="16.09" height="7.05" fill="#dee5f3" stroke="#fff" stroke-opacity="0.4" stroke-width="0.5"/>
<rect x="353.37" y="57.55" width="16.09" height="7.05" fill="#f8d7d7" stroke="#fff" stroke-opacity="0.4" stroke-width="0.5"/>
<rect x="369.46" y="57.55" width="16.09" height="7.05" fill="#fdf3f3" stroke="#fff" stroke-opacity="0.4" stroke-width="0.5"/>
<rect x="385.55" y="57.55" width="16.09" height="7.05" fill="#597cc4" stroke="#fff" stroke-opacity="0.4" stroke-width="0.5"/>
<rect x="401.64" y="57.55" width="16.09" height="7.05" fill="#88a2d4" stroke="#fff" stroke-opacity="0.4" stroke-width="0.5"/>
<rect x="417.73" y="57.55" width="16.09" height="7.05" fill="#e97f7f" stroke="#fff" stroke-opacity="0.4" stroke-width="0.5"/>
<rect x="433.82" y="57.55" width="16.09" height="7.05" fill="#efa2a2" stroke="#fff" stroke-opacity="0.4" stroke-width="0.5"/>
<rect x="449.91" y="57.55" width="16.09" height="7.05" fill="#94abd9" stroke="#fff" stroke-opacity="0.4" stroke-width="0.5"/>
<rect x="305.10" y="64.60" width="16.09" height="7.05" fill="#d0daee" stroke="#fff" stroke-opacity="0.4" stroke-width="0.5"/>
<rect x="321.19" y="64.60" width="16.09" height="7.05" fill="#c4d0ea" stroke="#fff" stroke-opacity="0.4" stroke-width="0.5"/>
<rect x="337.28" y="64.60" width="16.09" height="7.05" fill="#f9dede" stroke="#fff" stroke-opacity="0.4" stroke-width="0.5"/>
<rect x="353.37" y="64.60" width="16.09" height="7.05" fill="#eb8a8a" stroke="#fff" stroke-opacity="0.4" stroke-width="0.5"/>
<rect x="369.46" y="64.60" width="16.09" height="7.05" fill="#aabce0" stroke="#fff" stroke-opacity="0.4" stroke-width="0.5"/>
<rect x="385.55" y="64.60" width="16.09" height="7.05" fill="#4d73bf" stroke="#fff" stroke-opacity="0.4" stroke-width="0.5"/>
<rect x="401.64" y="64.60" width="16.09" height="7.05" fill="#94abd9" stroke="#fff" stroke-opacity="0.4" stroke-width="0.5"/>
<rect x="417.73" y="64.60" width="16.09" height="7.05" fill="#fdf1f1" stroke="#fff" stroke-opacity="0.4" stroke-width="0.5"/>
<rect x="433.82" y="64.60" width="16.09" height="7.05" fill="#eb8a8a" stroke="#fff" stroke-opacity="0.4" stroke-width="0.5"/>
<rect x="449.91" y="64.60" width="16.09" height="7.05" fill="#6585c8" stroke="#fff" stroke-opacity="0.4" stroke-width="0.5"/>
<rect x="305.10" y="71.65" width="16.09" height="7.05" fill="#88a2d4" stroke="#fff" stroke-opacity="0.4" stroke-width="0.5"/>
<rect x="321.19" y="71.65" width="16.09" height="7.05" fill="#acbee1" stroke="#fff" stroke-opacity="0.4" stroke-width="0.5"/>
<rect x="337.28" y="71.65" width="16.09" height="7.05" fill="#fae3e3" stroke="#fff" stroke-opacity="0.4" stroke-width="0.5"/>
<rect x="353.37" y="71.65" width="16.09" height="7.05" fill="#ea8484" stroke="#fff" stroke-opacity="0.4" stroke-width="0.5"/>
<rect x="369.46" y="71.65" width="16.09" height="7.05" fill="#dbe3f2" stroke="#fff" stroke-opacity="0.4" stroke-width="0.5"/>
<rect x="385.55" y="71.65" width="16.09" height="7.05" fill="#718fcc" stroke="#fff" stroke-opacity="0.4" stroke-width="0.5"/>
<rect x="401.64" y="71.65" width="16.09" height="7.05" fill="#88a2d4" stroke="#fff" stroke-opacity="0.4" stroke-width="0.5"/>
<rect x="417.73" y="71.65" width="16.09" height="7.05" fill="#f3b9b9" stroke="#fff" stroke-opacity="0.4" stroke-width="0.5"/>
<rect x="433.82" y="71.65" width="16.09" height="7.05" fill="#f3b9b9" stroke="#fff" stroke-opacity="0.4" stroke-width="0.5"/>
<rect x="449.91" y="71.65" width="16.09" height="7.05" fill="#94abd9" stroke="#fff" stroke-opacity="0.4" stroke-width="0.5"/>
<rect x="305.10" y="78.70" width="16.09" height="7.05" fill="#88a2d4" stroke="#fff" stroke-opacity="0.4" stroke-width="0.5"/>
<rect x="321.19" y="78.70" width="16.09" height="7.05" fill="#94abd9" stroke="#fff" stroke-opacity="0.4" stroke-width="0.5"/>
<rect x="337.28" y="78.70" width="16.09" height="7.05" fill="#fae3e3" stroke="#fff" stroke-opacity="0.4" stroke-width="0.5"/>
<rect x="353.37" y="78.70" width="16.09" height="7.05" fill="#eb8a8a" stroke="#fff" stroke-opacity="0.4" stroke-width="0.5"/>
<rect x="369.46" y="78.70" width="16.09" height="7.05" fill="#d0daee" stroke="#fff" stroke-opacity="0.4" stroke-width="0.5"/>
<rect x="385.55" y="78.70" width="16.09" height="7.05" fill="#7d98d0" stroke="#fff" stroke-opacity="0.4" stroke-width="0.5"/>
<rect x="401.64" y="78.70" width="16.09" height="7.05" fill="#94abd9" stroke="#fff" stroke-opacity="0.4" stroke-width="0.5"/>
<rect x="417.73" y="78.70" width="16.09" height="7.05" fill="#f7d0d0" stroke="#fff" stroke-opacity="0.4" stroke-width="0.5"/>
<rect x="433.82" y="78.70" width="16.09" height="7.05" fill="#eb8a8a" stroke="#fff" stroke-opacity="0.4" stroke-width="0.5"/>
<rect x="449.91" y="78.70" width="16.09" height="7.05" fill="#94abd9" stroke="#fff" stroke-opacity="0.4" stroke-width="0.5"/>
<rect x="305.10" y="85.75" width="16.09" height="7.05" fill="#88a2d4" stroke="#fff" stroke-opacity="0.4" stroke-width="0.5"/>
<rect x="321.19" y="85.75" width="16.09" height="7.05" fill="#88a2d4" stroke="#fff" stroke-opacity="0.4" stroke-width="0.5"/>
<rect x="337.28" y="85.75" width="16.09" height="7.05" fill="#f7d0d0" stroke="#fff" stroke-opacity="0.4" stroke-width="0.5"/>
<rect x="353.37" y="85.75" width="16.09" height="7.05" fill="#e97f7f" stroke="#fff" stroke-opacity="0.4" stroke-width="0.5"/>
<rect x="369.46" y="85.75" width="16.09" height="7.05" fill="#d0daee" stroke="#fff" stroke-opacity="0.4" stroke-width="0.5"/>
<rect x="385.55" y="85.75" width="16.09" height="7.05" fill="#7d98d0" stroke="#fff" stroke-opacity="0.4" stroke-width="0.5"/>
<rect x="401.64" y="85.75" width="16.09" height="7.05" fill="#94abd9" stroke="#fff" stroke-opacity="0.4" stroke-width="0.5"/>
<rect x="417.73" y="85.75" width="16.09" height="7.05" fill="#fbe8e8" stroke="#fff" stroke-opacity="0.4" stroke-width="0.5"/>
<rect x="433.82" y="85.75" width="16.09" height="7.05" fill="#efa2a2" stroke="#fff" stroke-opacity="0.4" stroke-width="0.5"/>
<rect x="449.91" y="85.75" width="16.09" height="7.05" fill="#a0b4dd" stroke="#fff" stroke-opacity="0.4" stroke-width="0.5"/>
<rect x="305.10" y="92.80" width="16.09" height="7.05" fill="#f7d0d0" stroke="#fff" stroke-opacity="0.4" stroke-width="0.5"/>
<rect x="321.19" y="92.80" width="16.09" height="7.05" fill="#d0daee" stroke="#fff" stroke-opacity="0.4" stroke-width="0.5"/>
<rect x="337.28" y="92.80" width="16.09" height="7.05" fill="#d0daee" stroke="#fff" stroke-opacity="0.4" stroke-width="0.5"/>
<rect x="353.37" y="92.80" width="16.09" height="7.05" fill="#a0b4dd" stroke="#fff" stroke-opacity="0.4" stroke-width="0.5"/>
<rect x="369.46" y="92.80" width="16.09" height="7.05" fill="#e35c5c" stroke="#fff" stroke-opacity="0.4" stroke-width="0.5"/>
<rect x="385.55" y="92.80" width="16.09" height="7.05" fill="#94abd9" stroke="#fff" stroke-opacity="0.4" stroke-width="0.5"/>
<rect x="401.64" y="92.80" width="16.09" height="7.05" fill="#a0b4dd" stroke="#fff" stroke-opacity="0.4" stroke-width="0.5"/>
<rect x="417.73" y="92.80" width="16.09" height="7.05" fill="#eb8a8a" stroke="#fff" stroke-opacity="0.4" stroke-width="0.5"/>
<rect x="433.82" y="92.80" width="16.09" height="7.05" fill="#a0b4dd" stroke="#fff" stroke-opacity="0.4" stroke-width="0.5"/>
<rect x="449.91" y="92.80" width="16.09" height="7.05" fill="#88a2d4" stroke="#fff" stroke-opacity="0.4" stroke-width="0.5"/>
<rect x="305.10" y="99.85" width="16.09" height="7.05" fill="#f9dcdc" stroke="#fff" stroke-opacity="0.4" stroke-width="0.5"/>
<rect x="321.19" y="99.85" width="16.09" height="7.05" fill="#fef8f8" stroke="#fff" stroke-opacity="0.4" stroke-width="0.5"/>
<rect x="337.28" y="99.85" width="16.09" height="7.05" fill="#e3e9f5" stroke="#fff" stroke-opacity="0.4" stroke-width="0.5"/>
<rect x="353.37" y="99.85" width="16.09" height="7.05" fill="#94abd9" stroke="#fff" stroke-opacity="0.4" stroke-width="0.5"/>
<rect x="369.46" y="99.85" width="16.09" height="7.05" fill="#ed9696" stroke="#fff" stroke-opacity="0.4" stroke-width="0.5"/>
<rect x="385.55" y="99.85" width="16.09" height="7.05" fill="#88a2d4" stroke="#fff" stroke-opacity="0.4" stroke-width="0.5"/>
<rect x="401.64" y="99.85" width="16.09" height="7.05" fill="#88a2d4" stroke="#fff" stroke-opacity="0.4" stroke-width="0.5"/>
<rect x="417.73" y="99.85" width="16.09" height="7.05" fill="#e97f7f" stroke="#fff" stroke-opacity="0.4" stroke-width="0.5"/>
<rect x="433.82" y="99.85" width="16.09" height="7.05" fill="#7d98d0" stroke="#fff" stroke-opacity="0.4" stroke-width="0.5"/>
<rect x="449.91" y="99.85" width="16.09" height="7.05" fill="#94abd9" stroke="#fff" stroke-opacity="0.4" stroke-width="0.5"/>
<rect x="305.10" y="106.90" width="16.09" height="7.05" fill="#f5c5c5" stroke="#fff" stroke-opacity="0.4" stroke-width="0.5"/>
<rect x="321.19" y="106.90" width="16.09" height="7.05" fill="#f8d5d5" stroke="#fff" stroke-opacity="0.4" stroke-width="0.5"/>
<rect x="337.28" y="106.90" width="16.09" height="7.05" fill="#b8c7e6" stroke="#fff" stroke-opacity="0.4" stroke-width="0.5"/>
<rect x="353.37" y="106.90" width="16.09" height="7.05" fill="#94abd9" stroke="#fff" stroke-opacity="0.4" stroke-width="0.5"/>
<rect x="369.46" y="106.90" width="16.09" height="7.05" fill="#e7ecf6" stroke="#fff" stroke-opacity="0.4" stroke-width="0.5"/>
<rect x="385.55" y="106.90" width="16.09" height="7.05" fill="#94abd9" stroke="#fff" stroke-opacity="0.4" stroke-width="0.5"/>
<rect x="401.64" y="106.90" width="16.09" height="7.05" fill="#a0b4dd" stroke="#fff" stroke-opacity="0.4" stroke-width="0.5"/>
<rect x="417.73" y="106.90" width="16.09" height="7.05" fill="#df4545" stroke="#fff" stroke-opacity="0.4" stroke-width="0.5"/>
<rect x="433.82" y="106.90" width="16.09" height="7.05" fill="#88a2d4" stroke="#fff" stroke-opacity="0.4" stroke-width="0.5"/>
<rect x="449.91" y="106.90" width="16.09" height="7.05" fill="#a5b8df" stroke="#fff" stroke-opacity="0.4" stroke-width="0.5"/>
<rect x="305.10" y="113.95" width="16.09" height="7.05" fill="#b8c7e6" stroke="#fff" stroke-opacity="0.4" stroke-width="0.5"/>
<rect x="321.19" y="113.95" width="16.09" height="7.05" fill="#fae3e3" stroke="#fff" stroke-opacity="0.4" stroke-width="0.5"/>
<rect x="337.28" y="113.95" width="16.09" height="7.05" fill="#bdcbe7" stroke="#fff" stroke-opacity="0.4" stroke-width="0.5"/>
<rect x="353.37" y="113.95" width="16.09" height="7.05" fill="#9bb0db" stroke="#fff" stroke-opacity="0.4" stroke-width="0.5"/>
<rect x="369.46" y="113.95" width="16.09" height="7.05" fill="#f3b9b9" stroke="#fff" stroke-opacity="0.4" stroke-width="0.5"/>
<rect x="385.55" y="113.95" width="16.09" height="7.05" fill="#94abd9" stroke="#fff" stroke-opacity="0.4" stroke-width="0.5"/>
<rect x="401.64" y="113.95" width="16.09" height="7.05" fill="#a0b4dd" stroke="#fff" stroke-opacity="0.4" stroke-width="0.5"/>
<rect x="417.73" y="113.95" width="16.09" height="7.05" fill="#dd3737" stroke="#fff" stroke-opacity="0.4" stroke-width="0.5"/>
<rect x="433.82" y="113.95" width="16.09" height="7.05" fill="#a0b4dd" stroke="#fff" stroke-opacity="0.4" stroke-width="0.5"/>
<rect x="449.91" y="113.95" width="16.09" height="7.05" fill="#a0b4dd" stroke="#fff" stroke-opacity="0.4" stroke-width="0.5"/>
<rect x="305.10" y="121.00" width="16.09" height="7.05" fill="#e3e9f5" stroke="#fff" stroke-opacity="0.4" stroke-width="0.5"/>
<rect x="321.19" y="121.00" width="16.09" height="7.05" fill="#fdf6f6" stroke="#fff" stroke-opacity="0.4" stroke-width="0.5"/>
<rect x="337.28" y="121.00" width="16.09" height="7.05" fill="#bdcbe7" stroke="#fff" stroke-opacity="0.4" stroke-width="0.5"/>
<rect x="353.37" y="121.00" width="16.09" height="7.05" fill="#94abd9" stroke="#fff" stroke-opacity="0.4" stroke-width="0.5"/>
<rect x="369.46" y="121.00" width="16.09" height="7.05" fill="#f6cccc" stroke="#fff" stroke-opacity="0.4" stroke-width="0.5"/>
<rect x="385.55" y="121.00" width="16.09" height="7.05" fill="#9bb0db" stroke="#fff" stroke-opacity="0.4" stroke-width="0.5"/>
<rect x="401.64" y="121.00" width="16.09" height="7.05" fill="#a0b4dd" stroke="#fff" stroke-opacity="0.4" stroke-width="0.5"/>
<rect x="417.73" y="121.00" width="16.09" height="7.05" fill="#dc3232" stroke="#fff" stroke-opacity="0.4" stroke-width="0.5"/>
<rect x="433.82" y="121.00" width="16.09" height="7.05" fill="#a5b8df" stroke="#fff" stroke-opacity="0.4" stroke-width="0.5"/>
<rect x="449.91" y="121.00" width="16.09" height="7.05" fill="#94abd9" stroke="#fff" stroke-opacity="0.4" stroke-width="0.5"/>
<rect x="305.10" y="128.05" width="16.09" height="7.05" fill="#cbd6ec" stroke="#fff" stroke-opacity="0.4" stroke-width="0.5"/>
<rect x="321.19" y="128.05" width="16.09" height="7.05" fill="#f5c5c5" stroke="#fff" stroke-opacity="0.4" stroke-width="0.5"/>
<rect x="337.28" y="128.05" width="16.09" height="7.05" fill="#c4d0ea" stroke="#fff" stroke-opacity="0.4" stroke-width="0.5"/>
<rect x="353.37" y="128.05" width="16.09" height="7.05" fill="#94abd9" stroke="#fff" stroke-opacity="0.4" stroke-width="0.5"/>
<rect x="369.46" y="128.05" width="16.09" height="7.05" fill="#ed9696" stroke="#fff" stroke-opacity="0.4" stroke-width="0.5"/>
<rect x="385.55" y="128.05" width="16.09" height="7.05" fill="#7d98d0" stroke="#fff" stroke-opacity="0.4" stroke-width="0.5"/>
<rect x="401.64" y="128.05" width="16.09" height="7.05" fill="#a0b4dd" stroke="#fff" stroke-opacity="0.4" stroke-width="0.5"/>
<rect x="417.73" y="128.05" width="16.09" height="7.05" fill="#e56565" stroke="#fff" stroke-opacity="0.4" stroke-width="0.5"/>
<rect x="433.82" y="128.05" width="16.09" height="7.05" fill="#acbee1" stroke="#fff" stroke-opacity="0.4" stroke-width="0.5"/>
<rect x="449.91" y="128.05" width="16.09" height="7.05" fill="#94abd9" stroke="#fff" stroke-opacity="0.4" stroke-width="0.5"/>
<rect x="305.10" y="135.10" width="16.09" height="7.05" fill="#dbe3f2" stroke="#fff" stroke-opacity="0.4" stroke-width="0.5"/>
<rect x="321.19" y="135.10" width="16.09" height="7.05" fill="#f7d0d0" stroke="#fff" stroke-opacity="0.4" stroke-width="0.5"/>
<rect x="337.28" y="135.10" width="16.09" height="7.05" fill="#cbd6ec" stroke="#fff" stroke-opacity="0.4" stroke-width="0.5"/>
<rect x="353.37" y="135.10" width="16.09" height="7.05" fill="#a5b8df" stroke="#fff" stroke-opacity="0.4" stroke-width="0.5"/>
<rect x="369.46" y="135.10" width="16.09" height="7.05" fill="#f3b9b9" stroke="#fff" stroke-opacity="0.4" stroke-width="0.5"/>
<rect x="385.55" y="135.10" width="16.09" height="7.05" fill="#88a2d4" stroke="#fff" stroke-opacity="0.4" stroke-width="0.5"/>
<rect x="401.64" y="135.10" width="16.09" height="7.05" fill="#94abd9" stroke="#fff" stroke-opacity="0.4" stroke-width="0.5"/>
<rect x="417.73" y="135.10" width="16.09" height="7.05" fill="#df4545" stroke="#fff" stroke-opacity="0.4" stroke-width="0.5"/>
<rect x="433.82" y="135.10" width="16.09" height="7.05" fill="#acbee1" stroke="#fff" stroke-opacity="0.4" stroke-width="0.5"/>
<rect x="449.91" y="135.10" width="16.09" height="7.05" fill="#88a2d4" stroke="#fff" stroke-opacity="0.4" stroke-width="0.5"/>
<rect x="305.10" y="142.15" width="16.09" height="7.05" fill="#c4d0ea" stroke="#fff" stroke-opacity="0.4" stroke-width="0.5"/>
<rect x="321.19" y="142.15" width="16.09" height="7.05" fill="#ecf0f8" stroke="#fff" stroke-opacity="0.4" stroke-width="0.5"/>
<rect x="337.28" y="142.15" width="16.09" height="7.05" fill="#b3c3e4" stroke="#fff" stroke-opacity="0.4" stroke-width="0.5"/>
<rect x="353.37" y="142.15" width="16.09" height="7.05" fill="#88a2d4" stroke="#fff" stroke-opacity="0.4" stroke-width="0.5"/>
<rect x="369.46" y="142.15" width="16.09" height="7.05" fill="#f3b9b9" stroke="#fff" stroke-opacity="0.4" stroke-width="0.5"/>
<rect x="385.55" y="142.15" width="16.09" height="7.05" fill="#bdcbe7" stroke="#fff" stroke-opacity="0.4" stroke-width="0.5"/>
<rect x="401.64" y="142.15" width="16.09" height="7.05" fill="#a5b8df" stroke="#fff" stroke-opacity="0.4" stroke-width="0.5"/>
<rect x="417.73" y="142.15" width="16.09" height="7.05" fill="#dd3939" stroke="#fff" stroke-opacity="0.4" stroke-width="0.5"/>
<rect x="433.82" y="142.15" width="16.09" height="7.05" fill="#bdcbe7" stroke="#fff" stroke-opacity="0.4" stroke-width="0.5"/>
<rect x="449.91" y="142.15" width="16.09" height="7.05" fill="#9bb0db" stroke="#fff" stroke-opacity="0.4" stroke-width="0.5"/>
<rect x="305.10" y="149.20" width="16.09" height="7.05" fill="#cbd6ec" stroke="#fff" stroke-opacity="0.4" stroke-width="0.5"/>
<rect x="321.19" y="149.20" width="16.09" height="7.05" fill="#c4d0ea" stroke="#fff" stroke-opacity="0.4" stroke-width="0.5"/>
<rect x="337.28" y="149.20" width="16.09" height="7.05" fill="#b8c7e6" stroke="#fff" stroke-opacity="0.4" stroke-width="0.5"/>
<rect x="353.37" y="149.20" width="16.09" height="7.05" fill="#a0b4dd" stroke="#fff" stroke-opacity="0.4" stroke-width="0.5"/>
<rect x="369.46" y="149.20" width="16.09" height="7.05" fill="#f9dcdc" stroke="#fff" stroke-opacity="0.4" stroke-width="0.5"/>
<rect x="385.55" y="149.20" width="16.09" height="7.05" fill="#b3c3e4" stroke="#fff" stroke-opacity="0.4" stroke-width="0.5"/>
<rect x="401.64" y="149.20" width="16.09" height="7.05" fill="#b3c3e4" stroke="#fff" stroke-opacity="0.4" stroke-width="0.5"/>
<rect x="417.73" y="149.20" width="16.09" height="7.05" fill="#d92222" stroke="#fff" stroke-opacity="0.4" stroke-width="0.5"/>
<rect x="433.82" y="149.20" width="16.09" height="7.05" fill="#a5b8df" stroke="#fff" stroke-opacity="0.4" stroke-width="0.5"/>
<rect x="449.91" y="149.20" width="16.09" height="7.05" fill="#acbee1" stroke="#fff" stroke-opacity="0.4" stroke-width="0.5"/>
<rect x="305.10" y="156.25" width="16.09" height="7.05" fill="#3d66b9" stroke="#fff" stroke-opacity="0.4" stroke-width="0.5"/>
<rect x="321.19" y="156.25" width="16.09" height="7.05" fill="#fcecec" stroke="#fff" stroke-opacity="0.4" stroke-width="0.5"/>
<rect x="337.28" y="156.25" width="16.09" height="7.05" fill="#fae3e3" stroke="#fff" stroke-opacity="0.4" stroke-width="0.5"/>
<rect x="353.37" y="156.25" width="16.09" height="7.05" fill="#b8c7e6" stroke="#fff" stroke-opacity="0.4" stroke-width="0.5"/>
<rect x="369.46" y="156.25" width="16.09" height="7.05" fill="#efa2a2" stroke="#fff" stroke-opacity="0.4" stroke-width="0.5"/>
<rect x="385.55" y="156.25" width="16.09" height="7.05" fill="#597cc4" stroke="#fff" stroke-opacity="0.4" stroke-width="0.5"/>
<rect x="401.64" y="156.25" width="16.09" height="7.05" fill="#f9dcdc" stroke="#fff" stroke-opacity="0.4" stroke-width="0.5"/>
<rect x="417.73" y="156.25" width="16.09" height="7.05" fill="#ffffff" stroke="#fff" stroke-opacity="0.4" stroke-width="0.5"/>
<rect x="433.82" y="156.25" width="16.09" height="7.05" fill="#7d98d0" stroke="#fff" stroke-opacity="0.4" stroke-width="0.5"/>
<rect x="449.91" y="156.25" width="16.09" height="7.05" fill="#f4bebe" stroke="#fff" stroke-opacity="0.4" stroke-width="0.5"/>
<rect x="305.10" y="163.30" width="16.09" height="7.05" fill="#b8c7e6" stroke="#fff" stroke-opacity="0.4" stroke-width="0.5"/>
<rect x="321.19" y="163.30" width="16.09" height="7.05" fill="#d0daee" stroke="#fff" stroke-opacity="0.4" stroke-width="0.5"/>
<rect x="337.28" y="163.30" width="16.09" height="7.05" fill="#ed9696" stroke="#fff" stroke-opacity="0.4" stroke-width="0.5"/>
<rect x="353.37" y="163.30" width="16.09" height="7.05" fill="#94abd9" stroke="#fff" stroke-opacity="0.4" stroke-width="0.5"/>
<rect x="369.46" y="163.30" width="16.09" height="7.05" fill="#f8d5d5" stroke="#fff" stroke-opacity="0.4" stroke-width="0.5"/>
<rect x="385.55" y="163.30" width="16.09" height="7.05" fill="#4d73bf" stroke="#fff" stroke-opacity="0.4" stroke-width="0.5"/>
<rect x="401.64" y="163.30" width="16.09" height="7.05" fill="#f5c5c5" stroke="#fff" stroke-opacity="0.4" stroke-width="0.5"/>
<rect x="417.73" y="163.30" width="16.09" height="7.05" fill="#f3b9b9" stroke="#fff" stroke-opacity="0.4" stroke-width="0.5"/>
<rect x="433.82" y="163.30" width="16.09" height="7.05" fill="#7d98d0" stroke="#fff" stroke-opacity="0.4" stroke-width="0.5"/>
<rect x="449.91" y="163.30" width="16.09" height="7.05" fill="#cbd6ec" stroke="#fff" stroke-opacity="0.4" stroke-width="0.5"/>
<rect x="305.10" y="170.35" width="16.09" height="7.05" fill="#b8c7e6" stroke="#fff" stroke-opacity="0.4" stroke-width="0.5"/>
<rect x="321.19" y="170.35" width="16.09" height="7.05" fill="#da2929" stroke="#fff" stroke-opacity="0.4" stroke-width="0.5"/>
<rect x="337.28" y="170.35" width="16.09" height="7.05" fill="#d0daee" stroke="#fff" stroke-opacity="0.4" stroke-width="0.5"/>
<rect x="353.37" y="170.35" width="16.09" height="7.05" fill="#acbee1" stroke="#fff" stroke-opacity="0.4" stroke-width="0.5"/>
<rect x="369.46" y="170.35" width="16.09" height="7.05" fill="#dbe3f2" stroke="#fff" stroke-opacity="0.4" stroke-width="0.5"/>
<rect x="385.55" y="170.35" width="16.09" height="7.05" fill="#acbee1" stroke="#fff" stroke-opacity="0.4" stroke-width="0.5"/>
<rect x="401.64" y="170.35" width="16.09" height="7.05" fill="#a5b8df" stroke="#fff" stroke-opacity="0.4" stroke-width="0.5"/>
<rect x="417.73" y="170.35" width="16.09" height="7.05" fill="#f5c5c5" stroke="#fff" stroke-opacity="0.4" stroke-width="0.5"/>
<rect x="433.82" y="170.35" width="16.09" height="7.05" fill="#a0b4dd" stroke="#fff" stroke-opacity="0.4" stroke-width="0.5"/>
<rect x="449.91" y="170.35" width="16.09" height="7.05" fill="#a5b8df" stroke="#fff" stroke-opacity="0.4" stroke-width="0.5"/>
<rect x="305.10" y="177.40" width="16.09" height="7.05" fill="#fbe8e8" stroke="#fff" stroke-opacity="0.4" stroke-width="0.5"/>
<rect x="321.19" y="177.40" width="16.09" height="7.05" fill="#f0a6a6" stroke="#fff" stroke-opacity="0.4" stroke-width="0.5"/>
<rect x="337.28" y="177.40" width="16.09" height="7.05" fill="#f1adad" stroke="#fff" stroke-opacity="0.4" stroke-width="0.5"/>
<rect x="353.37" y="177.40" width="16.09" height="7.05" fill="#f8d5d5" stroke="#fff" stroke-opacity="0.4" stroke-width="0.5"/>
<rect x="369.46" y="177.40" width="16.09" height="7.05" fill="#ee9d9d" stroke="#fff" stroke-opacity="0.4" stroke-width="0.5"/>
<rect x="385.55" y="177.40" width="16.09" height="7.05" fill="#7d98d0" stroke="#fff" stroke-opacity="0.4" stroke-width="0.5"/>
<rect x="401.64" y="177.40" width="16.09" height="7.05" fill="#88a2d4" stroke="#fff" stroke-opacity="0.4" stroke-width="0.5"/>
<rect x="417.73" y="177.40" width="16.09" height="7.05" fill="#88a2d4" stroke="#fff" stroke-opacity="0.4" stroke-width="0.5"/>
<rect x="433.82" y="177.40" width="16.09" height="7.05" fill="#7d98d0" stroke="#fff" stroke-opacity="0.4" stroke-width="0.5"/>
<rect x="449.91" y="177.40" width="16.09" height="7.05" fill="#88a2d4" stroke="#fff" stroke-opacity="0.4" stroke-width="0.5"/>
<rect x="305.10" y="184.45" width="16.09" height="7.05" fill="#9bb0db" stroke="#fff" stroke-opacity="0.4" stroke-width="0.5"/>
<rect x="321.19" y="184.45" width="16.09" height="7.05" fill="#f9dcdc" stroke="#fff" stroke-opacity="0.4" stroke-width="0.5"/>
<rect x="337.28" y="184.45" width="16.09" height="7.05" fill="#f8f9fc" stroke="#fff" stroke-opacity="0.4" stroke-width="0.5"/>
<rect x="353.37" y="184.45" width="16.09" height="7.05" fill="#f6f8fc" stroke="#fff" stroke-opacity="0.4" stroke-width="0.5"/>
<rect x="369.46" y="184.45" width="16.09" height="7.05" fill="#dd3939" stroke="#fff" stroke-opacity="0.4" stroke-width="0.5"/>
<rect x="385.55" y="184.45" width="16.09" height="7.05" fill="#6585c8" stroke="#fff" stroke-opacity="0.4" stroke-width="0.5"/>
<rect x="401.64" y="184.45" width="16.09" height="7.05" fill="#94abd9" stroke="#fff" stroke-opacity="0.4" stroke-width="0.5"/>
<rect x="417.73" y="184.45" width="16.09" height="7.05" fill="#ecf0f8" stroke="#fff" stroke-opacity="0.4" stroke-width="0.5"/>
<rect x="433.82" y="184.45" width="16.09" height="7.05" fill="#94abd9" stroke="#fff" stroke-opacity="0.4" stroke-width="0.5"/>
<rect x="449.91" y="184.45" width="16.09" height="7.05" fill="#d0daee" stroke="#fff" stroke-opacity="0.4" stroke-width="0.5"/>
<rect x="305.10" y="191.50" width="16.09" height="7.05" fill="#b8c7e6" stroke="#fff" stroke-opacity="0.4" stroke-width="0.5"/>
<rect x="321.19" y="191.50" width="16.09" height="7.05" fill="#e15050" stroke="#fff" stroke-opacity="0.4" stroke-width="0.5"/>
<rect x="337.28" y="191.50" width="16.09" height="7.05" fill="#ffffff" stroke="#fff" stroke-opacity="0.4" stroke-width="0.5"/>
<rect x="353.37" y="191.50" width="16.09" height="7.05" fill="#acbee1" stroke="#fff" stroke-opacity="0.4" stroke-width="0.5"/>
<rect x="369.46" y="191.50" width="16.09" height="7.05" fill="#eb8a8a" stroke="#fff" stroke-opacity="0.4" stroke-width="0.5"/>
<rect x="385.55" y="191.50" width="16.09" height="7.05" fill="#a0b4dd" stroke="#fff" stroke-opacity="0.4" stroke-width="0.5"/>
<rect x="401.64" y="191.50" width="16.09" height="7.05" fill="#a0b4dd" stroke="#fff" stroke-opacity="0.4" stroke-width="0.5"/>
<rect x="417.73" y="191.50" width="16.09" height="7.05" fill="#a5b8df" stroke="#fff" stroke-opacity="0.4" stroke-width="0.5"/>
<rect x="433.82" y="191.50" width="16.09" height="7.05" fill="#9bb0db" stroke="#fff" stroke-opacity="0.4" stroke-width="0.5"/>
<rect x="449.91" y="191.50" width="16.09" height="7.05" fill="#9bb0db" stroke="#fff" stroke-opacity="0.4" stroke-width="0.5"/>
<rect x="305.10" y="198.55" width="16.09" height="7.05" fill="#ecf0f8" stroke="#fff" stroke-opacity="0.4" stroke-width="0.5"/>
<rect x="321.19" y="198.55" width="16.09" height="7.05" fill="#eb8a8a" stroke="#fff" stroke-opacity="0.4" stroke-width="0.5"/>
<rect x="337.28" y="198.55" width="16.09" height="7.05" fill="#d4ddf0" stroke="#fff" stroke-opacity="0.4" stroke-width="0.5"/>
<rect x="353.37" y="198.55" width="16.09" height="7.05" fill="#acbee1" stroke="#fff" stroke-opacity="0.4" stroke-width="0.5"/>
<rect x="369.46" y="198.55" width="16.09" height="7.05" fill="#ea8686" stroke="#fff" stroke-opacity="0.4" stroke-width="0.5"/>
<rect x="385.55" y="198.55" width="16.09" height="7.05" fill="#88a2d4" stroke="#fff" stroke-opacity="0.4" stroke-width="0.5"/>
<rect x="401.64" y="198.55" width="16.09" height="7.05" fill="#88a2d4" stroke="#fff" stroke-opacity="0.4" stroke-width="0.5"/>
<rect x="417.73" y="198.55" width="16.09" height="7.05" fill="#f5c5c5" stroke="#fff" stroke-opacity="0.4" stroke-width="0.5"/>
<rect x="433.82" y="198.55" width="16.09" height="7.05" fill="#7d98d0" stroke="#fff" stroke-opacity="0.4" stroke-width="0.5"/>
<rect x="449.91" y="198.55" width="16.09" height="7.05" fill="#88a2d4" stroke="#fff" stroke-opacity="0.4" stroke-width="0.5"/>
</g>
<g font-size="6.40" fill="#1a1a1a" stroke="#1a1a1a" stroke-width="0.18">
<text transform="translate(469.00 20.89) rotate(-0.08)">JrWAKL12</text>
<text transform="translate(469.00 27.94) rotate(-0.08)">JrWAKL1</text>
<text transform="translate(469.00 34.99) rotate(-0.08)">JrWAKL6</text>
<text transform="translate(469.00 42.04) rotate(-0.08)">JrWAKL16</text>
<text transform="translate(469.00 49.09) rotate(-0.08)">JrWAKL13</text>
<text transform="translate(469.00 56.14) rotate(-0.08)">JrWAKL10</text>
<text transform="translate(469.00 63.19) rotate(-0.08)">JrWAKL7</text>
<text transform="translate(469.00 70.24) rotate(-0.08)">JrWAKL15</text>
<text transform="translate(469.00 77.29) rotate(-0.08)">JrWAKL8</text>
<text transform="translate(469.00 84.34) rotate(-0.08)">JrWAKL11</text>
<text transform="translate(469.00 91.39) rotate(-0.08)">JrWAKL9</text>
<text transform="translate(469.00 98.44) rotate(-0.08)">JrWAK11</text>
<text transform="translate(469.00 105.49) rotate(-0.08)">JrWAKL4</text>
<text transform="translate(469.00 112.54) rotate(-0.08)">JrWAKL5</text>
<text transform="translate(469.00 119.59) rotate(-0.08)">JrWAK6</text>
<text transform="translate(469.00 126.64) rotate(-0.08)">JrWAKL3</text>
<text transform="translate(469.00 133.69) rotate(-0.08)">JrWAK10</text>
<text transform="translate(469.00 140.74) rotate(-0.08)">JrWAKL2</text>
<text transform="translate(469.00 147.79) rotate(-0.08)">JrWAK8</text>
<text transform="translate(469.00 154.84) rotate(-0.08)">JrWAK2</text>
<text transform="translate(469.00 161.89) rotate(-0.08)">JrWAK3</text>
<text transform="translate(469.00 168.94) rotate(-0.08)">JrWAK1</text>
<text transform="translate(469.00 175.99) rotate(-0.08)">JrWAK4</text>
<text transform="translate(469.00 183.04) rotate(-0.08)">JrWAK7</text>
<text transform="translate(469.00 190.09) rotate(-0.08)">JrWAK9</text>
<text transform="translate(469.00 197.14) rotate(-0.08)">JrWAK5</text>
<text transform="translate(469.00 204.19) rotate(-0.08)">JrWAKL14</text>
</g>
<g font-size="6.80" fill="#1a1a1a" stroke="#1a1a1a" stroke-width="0.18" text-anchor="end">
<text transform="translate(317.35 212.25) rotate(-45)">F26-0</text>
<text transform="translate(333.44 212.25) rotate(-45)">F26-24</text>
<text transform="translate(349.53 212.25) rotate(-45)">F26-48</text>
<text transform="translate(365.62 212.25) rotate(-45)">F26-72</text>
<text transform="translate(381.70 212.25) rotate(-45)">F26-120</text>
<text transform="translate(397.80 212.25) rotate(-45)">F423-0</text>
<text transform="translate(413.88 212.25) rotate(-45)">F423-24</text>
<text transform="translate(429.98 212.25) rotate(-45)">F423-48</text>
<text transform="translate(446.06 212.25) rotate(-45)">F423-72</text>
<text transform="translate(462.16 212.25) rotate(-45)">F423-120</text>
</g>
<path d="M286.42 25.82L305.10 25.82M286.42 32.88L305.10 32.88M286.42 25.82L286.42 32.88M283.31 18.77L305.10 18.77M283.31 29.35L286.42 29.35M283.31 18.77L283.31 29.35M295.75 54.02L305.10 54.02M295.75 61.07L305.10 61.07M295.75 54.02L295.75 61.07M301.97 82.22L305.10 82.22M301.97 89.27L305.10 89.27M301.97 82.22L301.97 89.27M298.86 75.17L305.10 75.17M298.86 85.75L301.97 85.75M298.86 75.17L298.86 85.75M295.75 68.12L305.10 68.12M295.75 80.46L298.86 80.46M295.75 68.12L295.75 80.46M292.64 57.55L295.75 57.55M292.64 74.29L295.75 74.29M292.64 57.55L292.64 74.29M289.53 46.97L305.10 46.97M289.53 65.92L292.64 65.92M289.53 46.97L289.53 65.92M286.42 39.92L305.10 39.92M286.42 56.45L289.53 56.45M286.42 39.92L286.42 56.45M292.64 96.33L305.10 96.33M292.64 103.38L305.10 103.38M292.64 96.33L292.64 103.38M301.97 117.47L305.10 117.47M301.97 124.52L305.10 124.52M301.97 117.47L301.97 124.52M301.97 131.57L305.10 131.57M301.97 138.62L305.10 138.62M301.97 131.57L301.97 138.62M298.86 121.00L301.97 121.00M298.86 135.10L301.97 135.10M298.86 121.00L298.86 135.10M298.86 145.67L305.10 145.67M298.86 152.72L305.10 152.72M298.86 145.67L298.86 152.72M295.75 128.05L298.86 128.05M295.75 149.20L298.86 149.20M295.75 128.05L295.75 149.20M292.64 110.42L305.10 110.42M292.64 138.62L295.75 138.62M292.64 110.42L292.64 138.62M289.53 99.85L292.64 99.85M289.53 124.53L292.64 124.53M289.53 99.85L289.53 124.53M292.64 159.78L305.10 159.78M292.64 166.82L305.10 166.82M292.64 159.78L292.64 166.82M301.97 195.03L305.10 195.03M301.97 202.07L305.10 202.07M301.97 195.03L301.97 202.07M298.86 187.97L305.10 187.97M298.86 198.55L301.97 198.55M298.86 187.97L298.86 198.55M295.75 180.92L305.10 180.92M295.75 193.26L298.86 193.26M295.75 180.92L295.75 193.26M292.64 173.88L305.10 173.88M292.64 187.09L295.75 187.09M292.64 173.88L292.64 187.09M289.53 163.30L292.64 163.30M289.53 180.48L292.64 180.48M289.53 163.30L289.53 180.48M286.42 112.19L289.53 112.19M286.42 171.89L289.53 171.89M286.42 112.19L286.42 171.89M283.31 48.19L286.42 48.19M283.31 142.04L286.42 142.04M283.31 48.19L283.31 142.04M280.20 24.06L283.31 24.06M280.20 95.11L283.31 95.11M280.20 24.06L280.20 95.11" fill="none" stroke="#858585" stroke-width="0.5" stroke-linecap="square"/>
<defs><linearGradient id="gb" x1="0" y1="0" x2="0" y2="1"><stop offset="0" stop-color="#d71616"/><stop offset="0.600" stop-color="#fff"/><stop offset="1" stop-color="#1244aa"/></linearGradient></defs>
<rect x="517.10" y="19.30" width="9.30" height="70.50" fill="url(#gb)"/>
<path d="M526.40 19.30V89.80" stroke="#444" stroke-width="0.5"/>
<g font-size="5.70" fill="#1a1a1a" stroke="#1a1a1a" stroke-width="0.18">
<path d="M526.40 19.30h1.3" stroke="#333" stroke-width="0.5"/>
<text transform="translate(528.80 21.35) rotate(-0.08)">3.00</text>
<path d="M526.40 33.40h1.3" stroke="#333" stroke-width="0.5"/>
<text transform="translate(528.80 35.45) rotate(-0.08)">2.00</text>
<path d="M526.40 47.50h1.3" stroke="#333" stroke-width="0.5"/>
<text transform="translate(528.80 49.55) rotate(-0.08)">1.00</text>
<path d="M526.40 61.60h1.3" stroke="#333" stroke-width="0.5"/>
<text transform="translate(528.80 63.65) rotate(-0.08)">0.00</text>
<path d="M526.40 75.70h1.3" stroke="#333" stroke-width="0.5"/>
<text transform="translate(528.10 77.75) rotate(-0.08)">-1.00</text>
<path d="M526.40 89.80h1.3" stroke="#333" stroke-width="0.5"/>
<text transform="translate(528.10 91.85) rotate(-0.08)">-2.00</text>
</g>
<text x="8.7" y="18.9" font-size="12.7" font-weight="bold" fill="#000">a</text>
<text x="270.2" y="18.7" font-size="12.8" font-weight="bold" fill="#000">b</text>
</svg>
</body></html>
